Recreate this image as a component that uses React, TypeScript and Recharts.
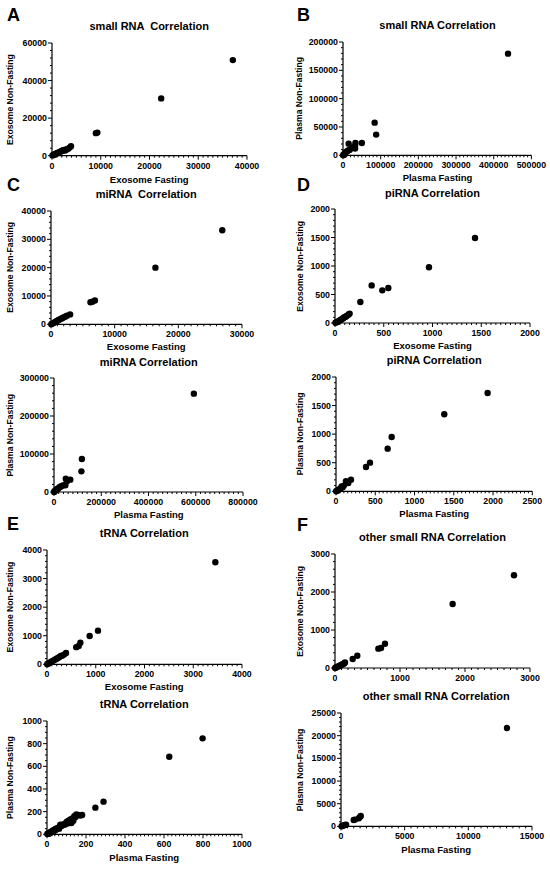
import React from 'react';
import { ScatterChart, Scatter, XAxis, YAxis } from 'recharts';

const FONT = '"Liberation Sans", Arial, sans-serif';

// A - exosome small RNA
const exoSmallX = [100, 300, 500, 700, 900, 1100, 1300, 1500, 1700, 1900, 2100, 2300, 2500, 2700, 2900, 3100, 3300, 3600, 3900, 9000, 9300, 22400, 37100];
const exoSmallY = [150, 400, 650, 900, 1150, 1400, 1650, 1900, 2150, 2400, 2650, 2900, 3100, 2700, 3200, 3500, 3700, 4300, 5000, 12000, 12300, 30500, 50900];

// B - plasma small RNA
const plaSmallX = [500, 1500, 3000, 5000, 7000, 9000, 12000, 15000, 18000, 15000, 25000, 32000, 33000, 32000, 50000, 84000, 88000, 438000];
const plaSmallY = [300, 1000, 2000, 3500, 5000, 6500, 7500, 9000, 10000, 20600, 14000, 11800, 21800, 17000, 21800, 57600, 36500, 179400];

// C - exosome miRNA
const exoMiX = [50, 200, 400, 600, 800, 1000, 1200, 1400, 1600, 1800, 2000, 2200, 2500, 3000, 6200, 6500, 6900, 16400, 26900];
const exoMiY = [60, 250, 500, 750, 1000, 1250, 1500, 1750, 2000, 2200, 2450, 2700, 3000, 3500, 7800, 8000, 8400, 20000, 33200];

// D - exosome piRNA
const exoPiX = [5, 15, 25, 35, 45, 55, 65, 75, 85, 95, 105, 115, 125, 140, 150, 260, 376, 485, 547, 964, 1436];
const exoPiY = [5, 12, 20, 30, 40, 55, 60, 75, 85, 100, 105, 120, 130, 150, 165, 368, 660, 573, 614, 977, 1491];

// plasma miRNA
const plaMiX = [500, 2000, 4000, 7000, 10000, 14000, 17000, 22000, 27000, 31000, 40000, 48000, 50000, 55000, 69000, 116000, 118000, 592000];
const plaMiY = [300, 1500, 3000, 4400, 6000, 8000, 8800, 12000, 14000, 15000, 18000, 17500, 35000, 28000, 32500, 54400, 86800, 258800];

// plasma piRNA
const plaPiX = [3, 10, 20, 30, 45, 60, 72, 85, 100, 127, 157, 191, 382, 433, 658, 709, 1379, 1931];
const plaPiY = [2, 8, 15, 25, 35, 55, 87, 70, 100, 175, 146, 204, 426, 501, 746, 950, 1347, 1720];

// E - exosome tRNA
const exoTX = [5, 20, 40, 60, 80, 100, 130, 160, 190, 220, 250, 280, 308, 350, 390, 600, 650, 684, 875, 1046, 3453];
const exoTY = [5, 20, 40, 60, 85, 100, 130, 160, 185, 220, 250, 290, 303, 340, 397, 600, 640, 758, 991, 1178, 3569];

// F - exosome other small RNA
const exoOtherX = [3, 10, 20, 35, 50, 65, 80, 100, 120, 140, 154, 272, 343, 667, 708, 769, 1810, 2754];
const exoOtherY = [3, 10, 18, 30, 42, 55, 68, 85, 100, 120, 147, 237, 324, 509, 526, 640, 1684, 2439];

// plasma tRNA
const plaTX = [2, 5, 8, 10, 14, 18, 20, 25, 28, 30, 35, 38, 42, 45, 50, 55, 60, 62, 68, 70, 75, 80, 85, 90, 100, 105, 110, 115, 120, 125, 130, 135, 140, 145, 150, 160, 170, 180, 248, 290, 627, 798];
const plaTY = [2, 8, 4, 12, 10, 20, 15, 25, 20, 35, 30, 40, 35, 50, 45, 55, 60, 50, 85, 70, 75, 80, 90, 85, 110, 95, 120, 110, 130, 100, 140, 120, 160, 150, 175, 170, 165, 170, 235, 288, 685, 847];

// plasma other small RNA
const plaOtherX = [50, 100, 200, 300, 400, 1000, 1100, 1400, 1500, 1550, 13037];
const plaOtherY = [40, 120, 200, 300, 380, 1400, 1500, 1800, 2100, 2300, 21690];

const TICK = 4;
const GAP = 2;

const steps = (max: number, step: number) => {
  const out: number[] = [];
  const n = Math.round(max / step);
  for (let i = 0; i <= n; i++) out.push(+(i * step).toFixed(6));
  return out;
};

const isMajor = (v: number, major: number) => Math.abs(v / major - Math.round(v / major)) < 1e-6;

const xTick = (major: number) => (props: any) => {
  const { x, y, payload } = props;
  const axisY = y - TICK - GAP;
  const big = isMajor(payload.value, major);
  return (
    <g>
      <line x1={x} x2={x} y1={axisY} y2={axisY + (big ? 4 : 2)} stroke="#000" strokeWidth={1} />
      {big && (
        <text x={x} y={y + 4} textAnchor="middle" dominantBaseline="central" fontFamily={FONT} fontWeight="bold" fontSize={8.8} fill="#000">
          {payload.value}
        </text>
      )}
    </g>
  );
};

const yTick = (major: number) => (props: any) => {
  const { x, y, payload } = props;
  const axisX = x + TICK + GAP;
  const big = isMajor(payload.value, major);
  return (
    <g>
      <line x1={axisX} x2={axisX - (big ? 4 : 2)} y1={y} y2={y} stroke="#000" strokeWidth={1} />
      {big && (
        <text x={x + 1} y={y} textAnchor="end" dominantBaseline="central" fontFamily={FONT} fontWeight="bold" fontSize={8.8} fill="#000">
          {payload.value}
        </text>
      )}
    </g>
  );
};

const dot = (props: any) => <circle cx={props.cx} cy={props.cy} r={3.2} fill="#000" />;

type Box = { l: number; t: number; r: number; b: number };

interface PanelProps {
  xs: number[];
  ys: number[];
  xMax: number;
  xMajor: number;
  yMax: number;
  yMajor: number;
  yMinorDiv?: number;
  box: Box;
  title: string;
  titleY: number;
  yLabel: string;
  yLabelX: number;
  xLabel?: string;
  xLabelY?: number;
  letter?: string;
  letterX?: number;
  letterY?: number;
}

const Panel = (p: PanelProps) => {
  const YW = 60, XH = 30, MT = 10, MR = 17;
  const w = p.box.r - p.box.l + YW + MR;
  const h = p.box.b - p.box.t + MT + XH;
  const data = p.xs.map((x, i) => ({ x, y: p.ys[i] }));
  const midX = (p.box.l + p.box.r) / 2;
  const midY = (p.box.t + p.box.b) / 2;
  const txt = { fontFamily: FONT, fontWeight: 'bold' as const, fill: '#000' };
  return (
    <>
      <div style={{ position: 'absolute', left: p.box.l - YW, top: p.box.t - MT }}>
        <ScatterChart width={w} height={h} margin={{ top: MT, right: MR, bottom: 0, left: 0 }}>
          <XAxis
            type="number"
            dataKey="x"
            domain={[0, p.xMax]}
            ticks={steps(p.xMax, p.xMajor / 10)}
            interval={0}
            height={XH}
            tickSize={TICK}
            tickMargin={GAP}
            tickLine={false}
            axisLine={{ stroke: '#000', strokeWidth: 1.2 }}
            tick={xTick(p.xMajor)}
          />
          <YAxis
            type="number"
            dataKey="y"
            domain={[0, p.yMax]}
            ticks={steps(p.yMax, p.yMajor / (p.yMinorDiv ?? 5))}
            interval={0}
            width={YW}
            tickSize={TICK}
            tickMargin={GAP}
            tickLine={false}
            axisLine={{ stroke: '#000', strokeWidth: 1.2 }}
            tick={yTick(p.yMajor)}
          />
          <Scatter data={data} fill="#000" isAnimationActive={false} shape={dot} />
        </ScatterChart>
      </div>
      <svg width={550} height={869} style={{ position: 'absolute', left: 0, top: 0, pointerEvents: 'none' }}>
        {p.letter && (
          <text x={p.letterX} y={p.letterY} fontSize={18} {...txt}>
            {p.letter}
          </text>
        )}
        <text x={midX} y={p.titleY} textAnchor="middle" dominantBaseline="central" fontSize={11} style={{ whiteSpace: 'pre' }} {...txt}>
          {p.title}
        </text>
        <text
          x={p.yLabelX}
          y={midY}
          textAnchor="middle"
          dominantBaseline="central"
          fontSize={8.6}
          transform={`rotate(-90, ${p.yLabelX}, ${midY})`}
          {...txt}
        >
          {p.yLabel}
        </text>
        {p.xLabel && (
          <text x={midX} y={p.xLabelY} textAnchor="middle" dominantBaseline="central" fontSize={9.5} {...txt}>
            {p.xLabel}
          </text>
        )}
      </svg>
    </>
  );
};

export default function App() {
  return (
    <div style={{ position: 'absolute', left: 0, top: 0, width: 550, height: 869, background: '#fff', overflow: 'hidden' }}>
      <Panel
        xs={exoSmallX} ys={exoSmallY} xMax={40000} xMajor={10000} yMax={60000} yMajor={20000}
        box={{ l: 51.7, t: 43.3, r: 246.7, b: 156 }}
        title="small RNA  Correlation" titleY={26}
        yLabel="Exosome Non-Fasting" yLabelX={10}
        xLabel="Exosome Fasting" xLabelY={179}
        letter="A" letterX={7} letterY={21}
      />
      <Panel
        xs={plaSmallX} ys={plaSmallY} xMax={500000} xMajor={100000} yMax={200000} yMajor={50000}
        box={{ l: 343.3, t: 41.7, r: 531.7, b: 155 }}
        title="small RNA Correlation" titleY={25}
        yLabel="Plasma Non-Fasting" yLabelX={299}
        xLabel="Plasma Fasting" xLabelY={177}
        letter="B" letterX={297} letterY={21}
      />
      <Panel
        xs={exoMiX} ys={exoMiY} xMax={30000} xMajor={10000} yMax={40000} yMajor={10000}
        box={{ l: 50.7, t: 210.7, r: 241.7, b: 324 }}
        title="miRNA  Correlation" titleY={193.5}
        yLabel="Exosome Non-Fasting" yLabelX={10}
        xLabel="Exosome Fasting" xLabelY={346}
        letter="C" letterX={7} letterY={191}
      />
      <Panel
        xs={exoPiX} ys={exoPiY} xMax={2000} xMajor={500} yMax={2000} yMajor={500}
        box={{ l: 335, t: 209.3, r: 530, b: 323.3 }}
        title="piRNA Correlation" titleY={193}
        yLabel="Exosome Non-Fasting" yLabelX={300}
        xLabel="Exosome Fasting" xLabelY={345}
        letter="D" letterX={297} letterY={191}
      />
      <Panel
        xs={plaMiX} ys={plaMiY} xMax={800000} xMajor={200000} yMax={300000} yMajor={100000}
        box={{ l: 54.3, t: 378.3, r: 243.3, b: 492.3 }}
        title="miRNA Correlation" titleY={361.7}
        yLabel="Plasma Non-Fasting" yLabelX={10}
        xLabel="Plasma Fasting" xLabelY={514.3}
      />
      <Panel
        xs={plaPiX} ys={plaPiY} xMax={2500} xMajor={500} yMax={2000} yMajor={500}
        box={{ l: 336, t: 376.7, r: 532.3, b: 491 }}
        title="piRNA Correlation" titleY={360}
        yLabel="Plasma Non-Fasting" yLabelX={300}
        xLabel="Plasma Fasting" xLabelY={513}
      />
      <Panel
        xs={exoTX} ys={exoTY} xMax={4000} xMajor={1000} yMax={4000} yMajor={1000}
        box={{ l: 46.7, t: 550, r: 241.7, b: 664.3 }}
        title="tRNA Correlation" titleY={533.3}
        yLabel="Exosome Non-Fasting" yLabelX={10}
        xLabel="Exosome Fasting" xLabelY={686.7}
        letter="E" letterX={7} letterY={530}
      />
      <Panel
        xs={exoOtherX} ys={exoOtherY} xMax={3000} xMajor={1000} yMax={3000} yMajor={1000}
        box={{ l: 335, t: 554.3, r: 530, b: 668.3 }}
        title="other small RNA Correlation" titleY={537.3}
        yLabel="Exosome Non-Fasting" yLabelX={300}
        letter="F" letterX={297} letterY={531}
      />
      <Panel
        xs={plaTX} ys={plaTY} xMax={1000} xMajor={200} yMax={1000} yMajor={200} yMinorDiv={4}
        box={{ l: 46.7, t: 721, r: 241.7, b: 834.3 }}
        title="tRNA Correlation" titleY={704}
        yLabel="Plasma Non-Fasting" yLabelX={10}
        xLabel="Plasma Fasting" xLabelY={857.7}
      />
      <Panel
        xs={plaOtherX} ys={plaOtherY} xMax={15000} xMajor={5000} yMax={25000} yMajor={5000}
        box={{ l: 340.7, t: 713.3, r: 531.7, b: 826.7 }}
        title="other small RNA Correlation" titleY={696}
        yLabel="Plasma Non-Fasting" yLabelX={300}
        xLabel="Plasma Fasting" xLabelY={849}
      />
    </div>
  );
}
